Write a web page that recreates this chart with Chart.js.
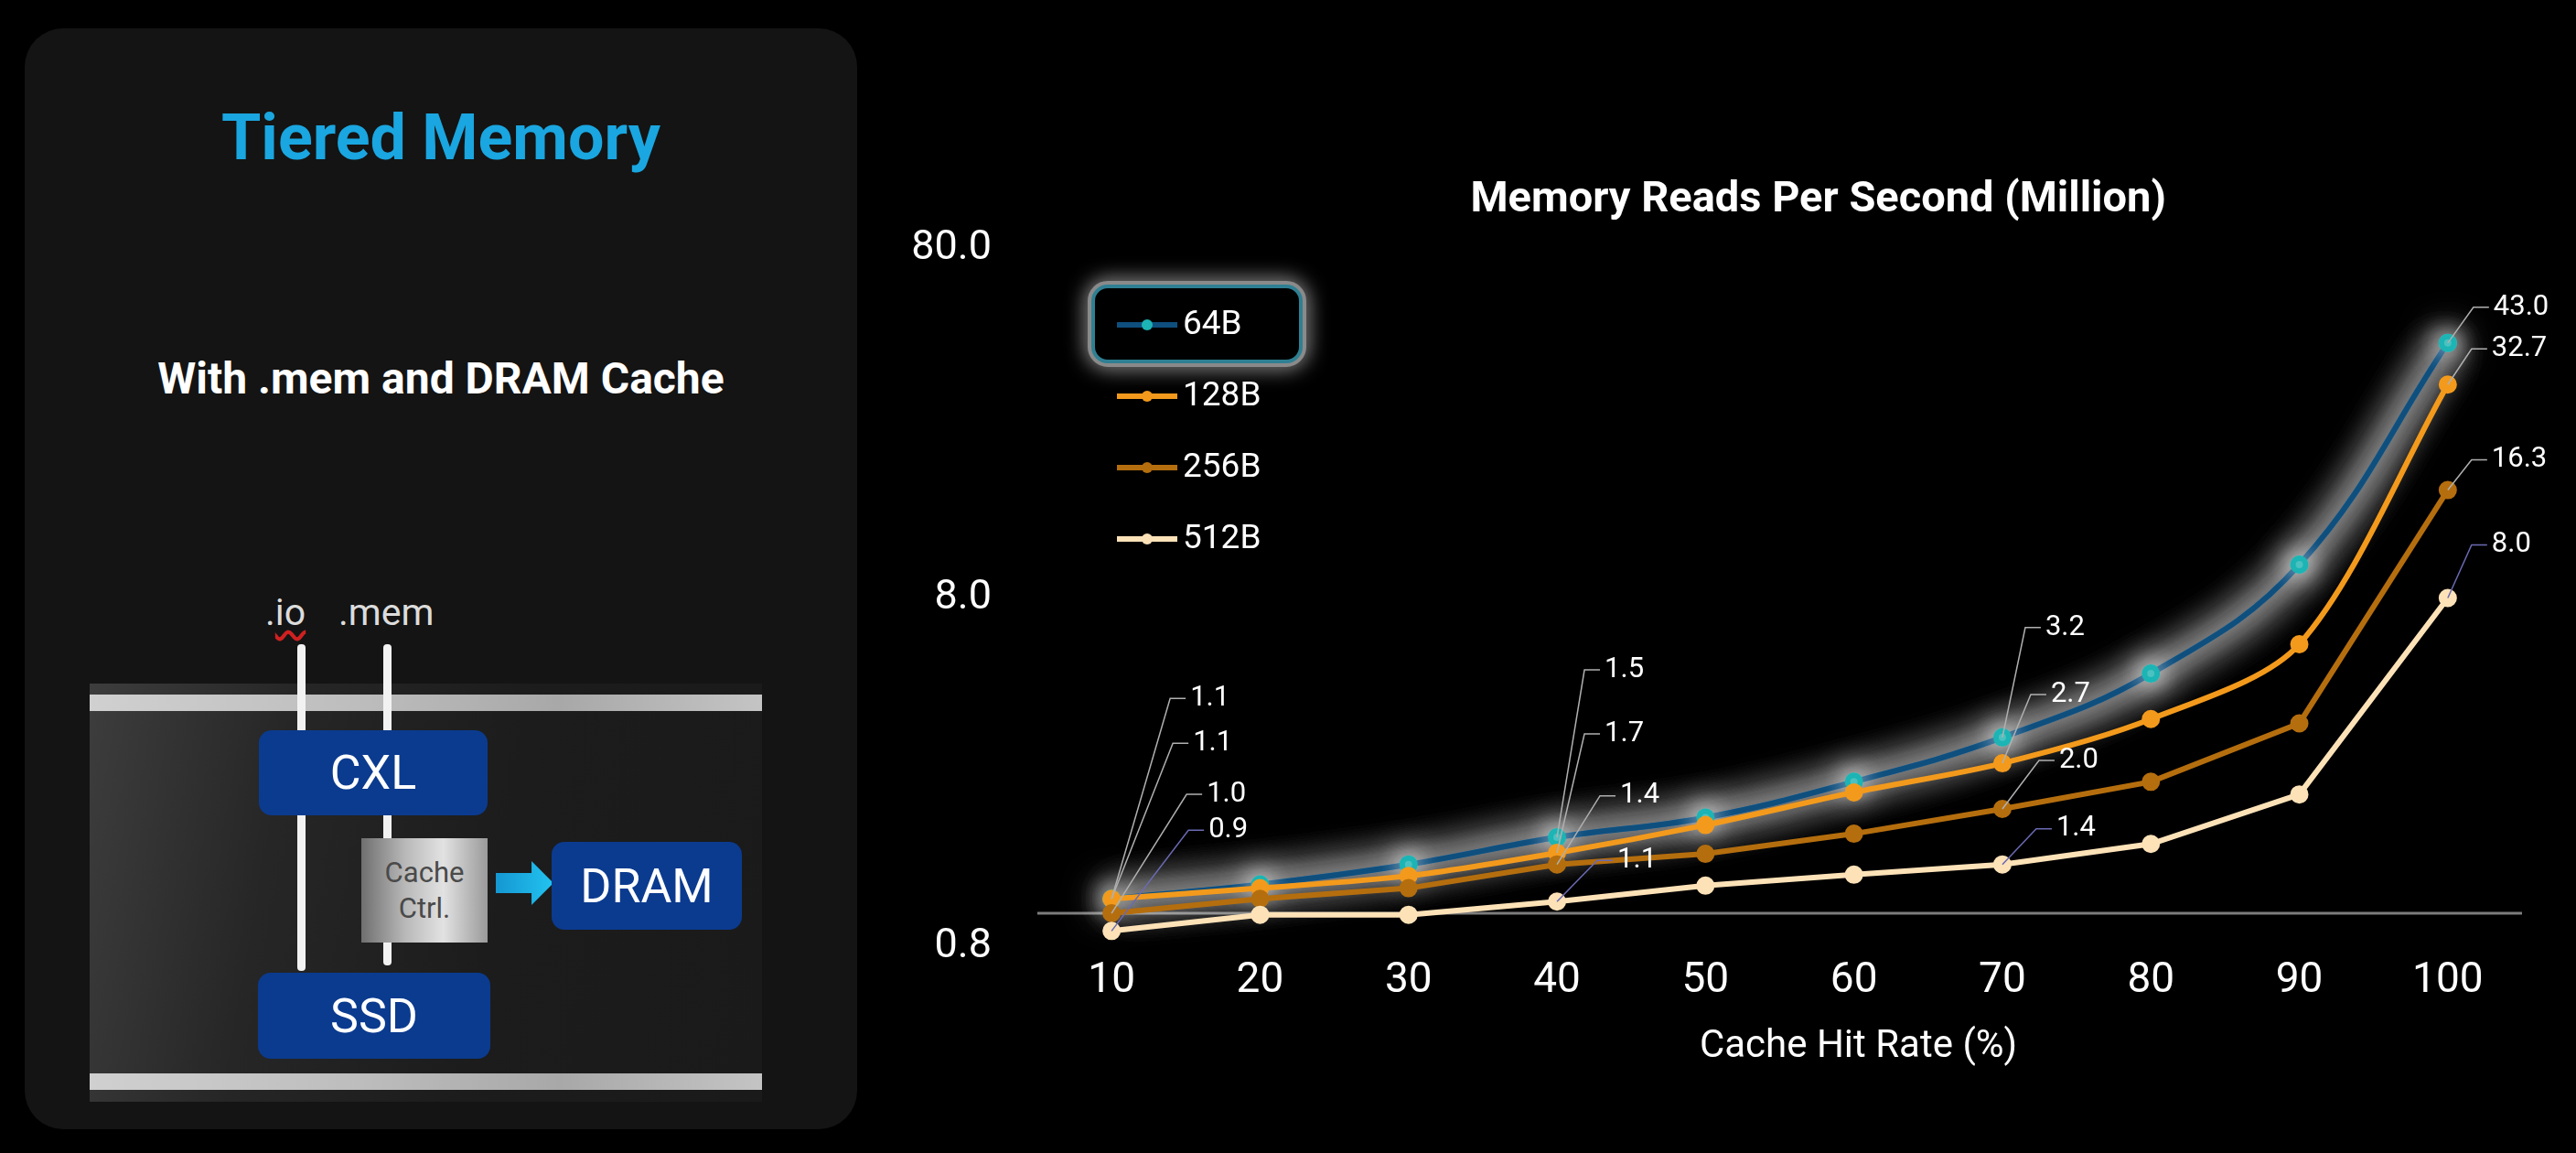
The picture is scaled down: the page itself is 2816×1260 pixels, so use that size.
<!DOCTYPE html>
<html>
<head>
<meta charset="utf-8">
<title>Tiered Memory</title>
<script src="https://cdn.jsdelivr.net/npm/chart.js@4.4.1/dist/chart.umd.min.js"></script>
<style>
  html, body { margin: 0; padding: 0; background: #000; width: 2816px; height: 1260px; overflow: hidden; font-family: Roboto, "Noto Sans", sans-serif; }
  .abs { position: absolute; }
  .panel { left: 27px; top: 31px; width: 910px; height: 1203px; background: #141414; border-radius: 42px; }
  .heading { left: 27px; width: 910px; text-align: center; }
  .board { left: 98px; top: 747px; width: 735px; height: 457px; background: linear-gradient(100deg, #3d3d3d 0%, #262626 28%, #1c1c1c 60%, #1a1a1a 100%); }
  .rail { left: 98px; width: 735px; height: 18px; background: linear-gradient(90deg, #d0d0d0 0%, #bdbdbd 40%, #a8a8a8 70%, #c4c4c4 100%); }
  .wire { width: 9px; background: #f2f2f2; border-radius: 4px; }
  .chip { background: #0b3b8f; border-radius: 14px; color: #fff; display: flex; align-items: center; justify-content: center; font-size: 52px; }
  .ctrl { left: 395px; top: 916px; width: 138px; height: 114px; background: linear-gradient(90deg, #6f6f6f 0%, #b9b9b9 35%, #e2e2e2 65%, #9a9a9a 100%); color: #4a4a4a; font-size: 31px; line-height: 39px; display: flex; align-items: center; justify-content: center; text-align: center; }
  .arrow { left: 542px; top: 941px; width: 63px; height: 48px; background: linear-gradient(90deg, #1597d2, #22c3f0); clip-path: polygon(0 27%, 62% 27%, 62% 0, 100% 50%, 62% 100%, 62% 73%, 0 73%); }
  .bus { top: 645px; font-size: 41px; color: #dcdcdc; }
  #wrap { left: 990px; top: 170px; width: 1826px; height: 1040px; }
</style>
</head>
<body>
<div class="abs panel"></div>
<div class="abs heading" style="top:110px; font-size:70px; font-weight:700; color:#1aa6e0; line-height:80px;">Tiered Memory</div>
<div class="abs heading" style="top:387px; font-size:48px; font-weight:700; color:#fff; line-height:54px;">With .mem and DRAM Cache</div>

<div class="abs board"></div>
<div class="abs rail" style="top:759px;"></div>
<div class="abs rail" style="top:1173px;"></div>
<div class="abs bus" style="left:290px;">.<span style="text-decoration: underline wavy #d02020; text-underline-offset: 6px;">io</span></div>
<div class="abs bus" style="left:370px;">.mem</div>
<div class="abs wire" style="left:325px; top:704px; height:357px;"></div>
<div class="abs wire" style="left:419px; top:704px; height:351px;"></div>
<div class="abs chip" style="left:283px; top:798px; width:250px; height:93px;">CXL</div>
<div class="abs ctrl">Cache<br>Ctrl.</div>
<div class="abs arrow"></div>
<div class="abs chip" style="left:603px; top:920px; width:208px; height:96px;">DRAM</div>
<div class="abs chip" style="left:282px; top:1063px; width:254px; height:94px;">SSD</div>

<div id="wrap" class="abs"><canvas id="reads"></canvas></div>

<script>
// cache hit rate (%) on x, memory reads per second (million) on a log y axis
const hitRates = ["10", "20", "30", "40", "50", "60", "70", "80", "90", "100"];
const reads64 = [1.1, 1.21, 1.38, 1.65, 1.88, 2.38, 3.19, 4.86, 9.97, 43.0];
const reads128 = [1.1, 1.18, 1.28, 1.49, 1.79, 2.22, 2.69, 3.6, 5.9, 32.7];
const reads256 = [1.0, 1.1, 1.18, 1.38, 1.48, 1.69, 1.99, 2.38, 3.5, 16.3];
const reads512 = [0.89, 0.99, 0.99, 1.08, 1.2, 1.29, 1.38, 1.58, 2.19, 8.0];
const yTicks = [0.8, 8, 80];

// data callouts printed on the slide, at hit rates 10, 40, 70 and 100
const calloutIdx = [0, 3, 6, 9];
const callout64 = ["1.1", "1.5", "3.2", "43.0"];
const callout128 = ["1.1", "1.7", "2.7", "32.7"];
const callout256 = ["1.0", "1.4", "2.0", "16.3"];
const callout512 = ["0.9", "1.1", "1.4", "8.0"];

const FONT = "Roboto, 'Noto Sans', sans-serif";

// label placement relative to its point: [dx, dy] per series, per callout
const calloutShift = [
  [[86, -219], [52, -183], [47, -120], [50, -39]],
  [[89, -170], [52, -130], [53, -75], [48, -39]],
  [[104, -130], [69, -75], [62, -53], [48, -33]],
  [[106, -110], [66, -45], [59, -39], [48, -58]],
];

const glowPlugin = {
  id: "glow",
  beforeDatasetDraw(chart, args) {
    if (args.index !== 0) return;
    const ctx = chart.ctx;
    const line = args.meta.dataset;
    ctx.save();
    ctx.shadowColor = "rgba(235,235,235,1)";
    ctx.shadowBlur = 44;
    // a few extra passes so the halo is as bright and wide as on the slide
    for (let i = 0; i < 4; i++) line.draw(ctx, chart.chartArea);
    args.meta.data.forEach((p) => p.draw(ctx, chart.chartArea));
    ctx.shadowBlur = 24;
  },
  afterDatasetDraw(chart, args) {
    if (args.index === 0) chart.ctx.restore();
  },
};

const baseLinePlugin = {
  id: "baseLine",
  beforeDatasetsDraw(chart) {
    const { ctx, chartArea, scales } = chart;
    const y = scales.y.getPixelForValue(1);
    ctx.save();
    ctx.strokeStyle = "#7d7d7d";
    ctx.lineWidth = 3;
    ctx.beginPath();
    ctx.moveTo(chartArea.left, y);
    ctx.lineTo(chartArea.right, y);
    ctx.stroke();
    ctx.restore();
  },
};

const calloutPlugin = {
  id: "callouts",
  afterDatasetsDraw(chart) {
    const ctx = chart.ctx;
    const texts = [callout64, callout128, callout256, callout512];
    ctx.save();
    ctx.font = "31px " + FONT;
    ctx.textBaseline = "middle";
    ctx.fillStyle = "#fff";
    texts.forEach((list, s) => {
      const meta = chart.getDatasetMeta(s);
      calloutIdx.forEach((idx, k) => {
        const pt = meta.data[idx];
        const lx = pt.x + calloutShift[s][k][0];
        const ly = pt.y + calloutShift[s][k][1];
        ctx.strokeStyle = s === 3 ? "#6a6ab4" : "#b0b0b0";
        ctx.lineWidth = 1.5;
        ctx.beginPath();
        ctx.moveTo(pt.x, pt.y);
        ctx.lineTo(lx - 22, ly);
        ctx.lineTo(lx - 5, ly);
        ctx.stroke();
        ctx.fillText(list[k], lx, ly);
      });
    });
    ctx.restore();
  },
};

const sideLegendPlugin = {
  id: "sideLegend",
  afterDraw(chart) {
    const { ctx, chartArea } = chart;
    const x0 = chartArea.left + 87;
    const y0 = chartArea.top + 83;
    ctx.save();
    chart.data.datasets.forEach((ds, i) => {
      const y = y0 + i * 78;
      if (i === 0) {
        ctx.save();
        ctx.shadowColor = "rgba(210,210,210,1)";
        ctx.shadowBlur = 22;
        ctx.strokeStyle = "#8a8a8a";
        ctx.lineWidth = 12;
        ctx.fillStyle = "#000";
        ctx.beginPath();
        ctx.roundRect(x0 - 26, y - 42, 227, 82, 16);
        ctx.stroke();
        ctx.shadowBlur = 0;
        ctx.fill();
        ctx.strokeStyle = "#2f7f93";
        ctx.lineWidth = 4;
        ctx.stroke();
        ctx.restore();
      }
      ctx.strokeStyle = ds.borderColor;
      ctx.lineWidth = 6;
      ctx.beginPath();
      ctx.moveTo(x0, y);
      ctx.lineTo(x0 + 66, y);
      ctx.stroke();
      ctx.fillStyle = ds.pointBackgroundColor;
      ctx.beginPath();
      ctx.arc(x0 + 33, y, 6, 0, Math.PI * 2);
      ctx.fill();
      ctx.fillStyle = "#fff";
      ctx.font = "37px " + FONT;
      ctx.textBaseline = "middle";
      ctx.fillText(ds.label, x0 + 72, y + 1);
    });
    ctx.restore();
  },
};

const captionPlugin = {
  id: "captions",
  afterDraw(chart) {
    const { ctx, chartArea } = chart;
    const w = chartArea.right - chartArea.left;
    ctx.save();
    ctx.fillStyle = "#fff";
    ctx.textAlign = "center";
    ctx.textBaseline = "middle";
    ctx.font = "bold 47px " + FONT;
    ctx.fillText("Memory Reads Per Second (Million)", chartArea.left + w * 0.526, chartArea.top - 53);
    ctx.font = "42px " + FONT;
    ctx.fillText("Cache Hit Rate (%)", chartArea.left + w * 0.553, chartArea.bottom + 109);
    ctx.restore();
  },
};

new Chart(document.getElementById("reads"), {
  type: "line",
  data: {
    labels: hitRates,
    datasets: [
      {
        label: "64B",
        data: reads64,
        borderColor: "#0e4f7e",
        pointBackgroundColor: "#1cb4b4",
        pointBorderColor: "#1cb4b4",
        borderWidth: 6,
        pointRadius: 7,
        tension: 0.4,
        order: 4,
      },
      {
        label: "128B",
        data: reads128,
        borderColor: "#f39a1c",
        pointBackgroundColor: "#f39a1c",
        pointBorderColor: "#f39a1c",
        borderWidth: 6,
        pointRadius: 7,
        tension: 0.3,
        order: 3,
      },
      {
        label: "256B",
        data: reads256,
        borderColor: "#b56e0e",
        pointBackgroundColor: "#b56e0e",
        pointBorderColor: "#b56e0e",
        borderWidth: 6,
        pointRadius: 7,
        tension: 0,
        order: 2,
      },
      {
        label: "512B",
        data: reads512,
        borderColor: "#fde2b8",
        pointBackgroundColor: "#fde2b8",
        pointBorderColor: "#fde2b8",
        borderWidth: 6,
        pointRadius: 7,
        tension: 0,
        order: 1,
      },
    ],
  },
  options: {
    responsive: true,
    maintainAspectRatio: false,
    devicePixelRatio: 1,
    animation: false,
    layout: { padding: { top: 102, right: 59, bottom: 10, left: 0 } },
    plugins: {
      legend: { display: false },
      title: { display: false },
      tooltip: { enabled: false },
    },
    scales: {
      x: {
        offset: true,
        grid: { display: false },
        border: { display: false },
        ticks: { color: "#fff", font: { size: 46, family: FONT }, padding: 2, maxRotation: 0, autoSkip: false },
        afterFit: (scale) => { scale.height = 165; },
      },
      y: {
        type: "logarithmic",
        min: 0.8,
        max: 80,
        grid: { display: false },
        border: { display: false },
        afterBuildTicks: (scale) => { scale.ticks = yTicks.map((v) => ({ value: v })); },
        afterFit: (scale) => { scale.width = 144; },
        ticks: {
          color: "#fff",
          font: { size: 45, family: FONT },
          padding: 42,
          callback: (v) => Number(v).toFixed(1),
        },
      },
    },
  },
  plugins: [baseLinePlugin, glowPlugin, calloutPlugin, sideLegendPlugin, captionPlugin],
});
</script>
</body>
</html>
